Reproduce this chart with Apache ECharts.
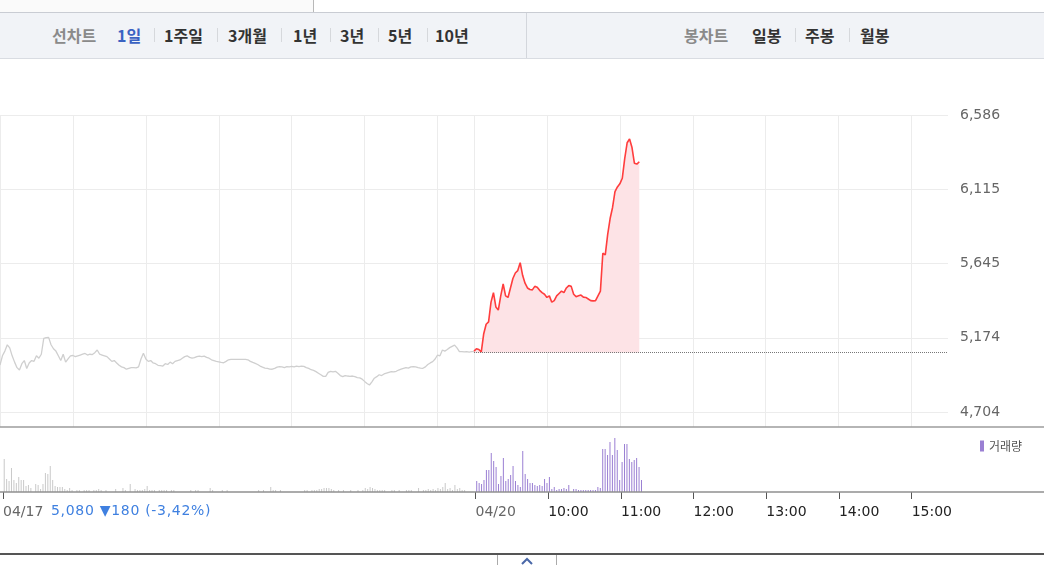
<!DOCTYPE html>
<html>
<head>
<meta charset="utf-8">
<script src="https://cdn.jsdelivr.net/npm/echarts@6/dist/echarts.min.js"></script>
<style>
  html, body { margin:0; padding:0; width:1044px; height:565px; overflow:hidden; background:#fff; }
  #chart { position:absolute; left:0; top:0; width:1044px; height:565px; }
  .ov { position:absolute; z-index:5; }
  #topbox { left:0; top:0; width:313px; height:12px; background:#fafafa; border-right:1px solid #b8b8b8; }
  #nav { left:0; top:12px; width:1044px; height:45px; background:#f1f3f7; border-top:1px solid #c9ccd3; border-bottom:1px solid #d9dce2; }
  #navdiv { left:526px; top:13px; width:1px; height:45px; background:#d3d6dc; }
  .nt { position:absolute; top:23px; font-family:"Noto Sans CJK KR", sans-serif; font-weight:700; font-size:16px; line-height:24px; color:#333; white-space:nowrap; }
  .nt.g { color:#8a8a8a; }
  .nt.b { color:#3a62c2; }
  .sep { position:absolute; top:28px; width:1px; height:14px; background:#d6d8dc; }
  #chg { left:51px; top:502px; font-family:"DejaVu Sans", sans-serif; font-size:14px; letter-spacing:0.7px; color:#3f80e0; white-space:nowrap; }
  #bline { left:0; top:553px; width:1044px; height:2px; background:#555; }
  #btab { left:497px; top:555px; width:58px; height:12px; background:#fff; border-left:1px solid #aaa; border-right:1px solid #aaa; }
</style>
</head>
<body>
<div id="chart"></div>
<div class="ov" id="topbox"></div>
<div class="ov" id="nav"></div>
<div class="ov" id="navdiv"></div>
<div class="ov nt g" style="left:52px">선차트</div>
<div class="ov nt b" style="left:117px">1일</div>
<div class="ov sep" style="left:154px"></div>
<div class="ov nt" style="left:164px">1주일</div>
<div class="ov sep" style="left:217px"></div>
<div class="ov nt" style="left:228px">3개월</div>
<div class="ov sep" style="left:281px"></div>
<div class="ov nt" style="left:293px">1년</div>
<div class="ov sep" style="left:330px"></div>
<div class="ov nt" style="left:340px">3년</div>
<div class="ov sep" style="left:378px"></div>
<div class="ov nt" style="left:388px">5년</div>
<div class="ov sep" style="left:427px"></div>
<div class="ov nt" style="left:435px">10년</div>
<div class="ov nt g" style="left:684px">봉차트</div>
<div class="ov nt" style="left:752px">일봉</div>
<div class="ov sep" style="left:795px"></div>
<div class="ov nt" style="left:805px">주봉</div>
<div class="ov sep" style="left:849px"></div>
<div class="ov nt" style="left:860px">월봉</div>
<div class="ov" id="chg">5,080 ▼180 (-3,42%)</div>
<div class="ov" id="bline"></div>
<div class="ov" id="btab"><svg width="58" height="12" style="position:absolute;left:0;top:0"><polyline points="24,9 29,4 34,9" fill="none" stroke="#4a68a8" stroke-width="2"/></svg></div>
<script>
// ---- data ----
const STEP = 2;                // minutes between samples
const SESSION = 390;           // minutes per trading session
const prevClose = 5080;
const yTickLabels = ['4,704', '5,174', '5,645', '6,115', '6,586'];
const yMin = 4704, yMax = 6586;
const xTickValues = [0, 390, 450, 510, 570, 630, 690, 750];
const xTickLabels = ['04/17', '04/20', '10:00', '11:00', '12:00', '13:00', '14:00', '15:00'];
const xTickIsDate = [true, true, false, false, false, false, false, false];

const prevPrice = [
  5002,5060,5090,5130,5110,5060,5020,4985,4970,5010,
  5030,4980,5015,5030,5025,5060,5045,5070,5170,5175,
  5177,5130,5105,5090,5060,5030,5070,5020,5040,5060,
  5062,5055,5060,5065,5070,5075,5065,5070,5068,5080,
  5097,5070,5065,5060,5055,5040,5025,5030,5015,5000,
  4990,4985,4975,4980,4985,4985,4984,4990,5040,5076,
  5040,5025,5030,5015,5010,5000,4998,4995,5010,5005,
  5020,5010,5025,5030,5034,5045,5055,5060,5050,5045,
  5048,5055,5058,5055,5058,5050,5045,5035,5030,5025,
  5022,5018,5016,5025,5035,5038,5038,5038,5038,5038,
  5038,5038,5035,5025,5018,5012,5005,4995,4988,4982,
  4980,4976,4975,4980,4988,4991,4990,4985,4992,4990,
  4993,4990,4995,4992,4995,4993,4985,4980,4972,4968,
  4960,4950,4940,4930,4930,4955,4962,4958,4962,4950,
  4935,4928,4935,4932,4930,4932,4928,4922,4920,4912,
  4898,4885,4875,4895,4918,4928,4940,4935,4945,4950,
  4955,4960,4958,4962,4970,4975,4980,4985,4982,4990,
  4991,4990,4985,4982,4981,4990,5005,5015,5023,5040,
  5065,5060,5097,5090,5100,5112,5120,5128,5110,5086,
  5086,5085,5086,5084,5086,5086
];
const todayPrice = [
  5090,5105,5100,5085,5200,5260,5275,5400,5460,5370,
  5350,5440,5515,5440,5430,5490,5550,5585,5600,5650,
  5570,5520,5490,5480,5478,5500,5495,5475,5460,5450,
  5430,5440,5400,5410,5440,5455,5470,5460,5490,5505,
  5500,5450,5435,5440,5445,5432,5430,5420,5410,5408,
  5410,5440,5470,5710,5700,5830,5930,6000,6100,6130,
  6150,6185,6310,6410,6434,6380,6280,6275,6290
];
const prevVol = [
  33,13,11,24,12,9,15,12,12,6,7,4,0,8,7,3,8,19,18,26,12,6,5,5,5,3,2,4,2,
  0,2,2,0,2,2,2,0,2,2,
  3,2,0,2,0,0,0,3,0,0,4,2,0,8,0,3,2,2,2,3,6,2,2,2,0,2,2,2,2,0,2,2,
  0,0,0,0,0,0,
  2,0,2,2,
  0,0,0,0,
  4,2,
  0,0,0,
  2,0,2,
  0,0,0,0,0,0,0,0,0,0,0,0,
  2,0,2,0,0,5,2,2,0,2,
  0,0,0,0,0,0,0,0,0,
  2,2,0,2,2,2,3,3,4,4,4,3,2,
  0,2,0,2,0,0,2,0,0,2,0,2,
  4,3,5,4,3,2,2,2,2,
  0,0,2,2,0,2,0,0,2,2,2,0,0,
  4,0,2,2,3,2,3,2,4,3,5,9,3,4,2,7,3,4,2,2,
  0,0,0,0
];
const todayVol = [
  11,9,8,12,22,22,39,31,25,8,
  16,34,11,13,17,26,11,7,5,41,
  18,13,9,9,7,6,7,6,13,9,
  15,3,5,2,3,3,4,3,7,0,
  3,3,2,2,2,2,2,2,2,2,
  5,4,43,43,37,50,37,54,42,12,
  30,48,48,33,30,32,34,25,12
];

// ---- chart ----
const chart = echarts.init(document.getElementById('chart'));
// hour gridlines: every hour within each session (sessions are 6.5 h long)
const vColors = [];
for (let v = 0; v <= 2 * SESSION; v += 30) {
  const inSession = v < SESSION ? v : v - SESSION;
  const visible = (v < 2 * SESSION) && (inSession % 60 === 0);
  vColors.push(visible ? '#ececec' : 'rgba(0,0,0,0)');
}

const option = {
  animation: false,
  textStyle: { fontFamily: 'DejaVu Sans' },
  legend: {
    data: ['거래량'], left: 975, top: 435, icon: 'rect', itemWidth: 4, itemHeight: 11, itemGap: 3,
    selectedMode: false,
    textStyle: { color: '#555', fontSize: 12, fontFamily: 'Noto Sans CJK KR' }
  },
  grid: [
    { left: 0, top: 115, width: 948, height: 297 },
    { left: 0, top: 115, width: 948, height: 312 },
    { left: 0, top: 432, width: 948, height: 60 }
  ],
  xAxis: [
    { gridIndex: 0, type: 'value', min: 0, max: 2 * SESSION, show: false },
    { gridIndex: 1, type: 'value', min: 0, max: 2 * SESSION, interval: 30,
      axisLine: { show: false }, axisTick: { show: false }, axisLabel: { show: false },
      splitLine: { show: true, lineStyle: { color: vColors, width: 1 } } },
    { gridIndex: 2, type: 'value', min: 0, max: 2 * SESSION, interval: 60,
      axisLine: { show: false }, splitLine: { show: false },
      axisTick: { show: true, customValues: xTickValues, length: 7, lineStyle: { color: '#555' } },
      axisLabel: {
        customValues: xTickValues, align: 'left', margin: 13, showMinLabel: true, showMaxLabel: true,
        formatter: function (v) {
          const i = xTickValues.indexOf(v);
          if (i < 0) return '';
          return (xTickIsDate[i] ? '{d|' : '{t|') + xTickLabels[i] + '}';
        },
        rich: {
          d: { color: '#666', fontSize: 14, fontFamily: 'DejaVu Sans' },
          t: { color: '#222', fontSize: 14, fontFamily: 'DejaVu Sans' }
        }
      } }
  ],
  yAxis: [
    { gridIndex: 0, type: 'value', min: yMin, max: yMax, show: false },
    { gridIndex: 0, type: 'value', min: 0, max: yTickLabels.length - 1, interval: 1, position: 'right',
      axisLine: { show: false }, axisTick: { show: false },
      axisLabel: { margin: 12, color: '#666', fontSize: 14, fontFamily: 'DejaVu Sans',
        formatter: function (v) { return yTickLabels[v] || ''; } },
      splitLine: { show: true, lineStyle: { color: '#ececec' } } },
    { gridIndex: 1, type: 'value', min: 0, max: 1, show: false },
    { gridIndex: 2, type: 'value', min: 0, max: 60, show: false }
  ],
  graphic: [
    { type: 'line', shape: { x1: 0, y1: 427, x2: 1044, y2: 427 }, style: { stroke: '#9d9d9d', lineWidth: 1.5 }, z: 10 },
    { type: 'line', shape: { x1: 0, y1: 492, x2: 1044, y2: 492 }, style: { stroke: '#8f8f8f', lineWidth: 1.5 }, z: 10 }
  ],
  series: [
    { name: 'prev', type: 'line', xAxisIndex: 0, yAxisIndex: 0, symbol: 'none', z: 3,
      data: prevPrice.map((p, i) => [i * STEP, p]),
      lineStyle: { color: '#cfcfcf', width: 1.3 }, itemStyle: { color: '#cfcfcf' } },
    { name: 'today', type: 'line', xAxisIndex: 0, yAxisIndex: 0, symbol: 'none', z: 4,
      data: todayPrice.map((p, i) => [SESSION + i * STEP, p]),
      lineStyle: { color: '#ff3d3d', width: 1.6 }, itemStyle: { color: '#ff3d3d' },
      areaStyle: { origin: prevClose, color: '#fde3e6', opacity: 1 },
      markLine: { silent: true, symbol: ['none', 'none'], label: { show: false },
        lineStyle: { type: 'dotted', color: '#777', width: 1 },
        data: [[{ coord: [SESSION, prevClose] }, { coord: [2 * SESSION, prevClose] }]] } },
    { name: 'prevVol', type: 'bar', xAxisIndex: 2, yAxisIndex: 3, barWidth: 1, barGap: '-100%',
      data: prevVol.map((v, i) => [i * STEP + 1, v]),
      itemStyle: { color: '#c9c9c9' } },
    { name: '거래량', type: 'bar', xAxisIndex: 2, yAxisIndex: 3, barWidth: 1, barGap: '-100%',
      data: todayVol.map((v, i) => [SESSION + i * STEP + 1, v]),
      itemStyle: { color: '#9a7fd3' } }
  ]
};
chart.setOption(option);
</script>
</body>
</html>
